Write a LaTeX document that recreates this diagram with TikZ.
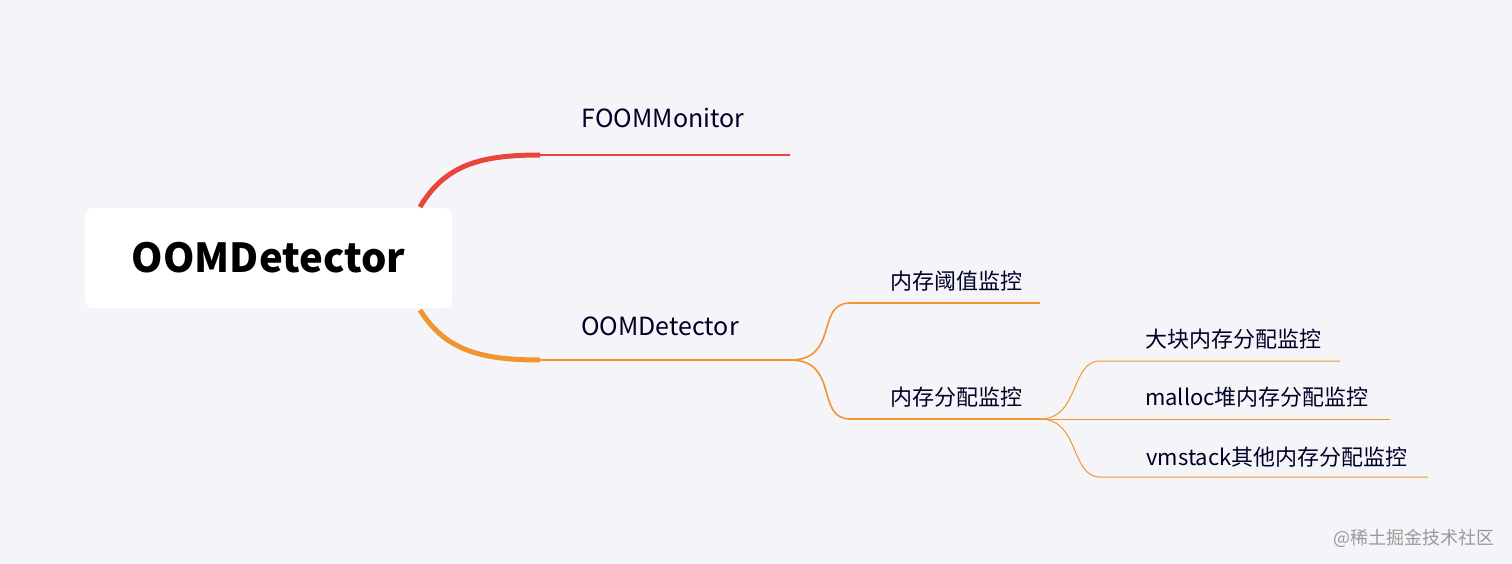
\documentclass[tikz,border=0pt]{standalone}
\usepackage{fontspec}
\setmainfont{Noto Sans CJK SC}
\begin{document}
\begin{tikzpicture}[x=1pt,y=-1pt,
 lab/.style={font=\fontsize{22}{26}\selectfont,text=black!85!blue,anchor=base},
 br/.style={line width=2.5pt},
 sub/.style={line width=1.6pt,draw=orm},
 leaf/.style={line width=1pt,draw=orm}]
\definecolor{bg}{HTML}{F5F5F9}
\definecolor{rd}{HTML}{E8453C}
\definecolor{orm}{HTML}{F3952F}
\fill[bg] (0,0) rectangle (1512,564);
\useasboundingbox (0,0) rectangle (1512,564);
\node[fill=white,rounded corners=8pt,minimum width=367pt,minimum height=100pt,font=\fontsize{40}{44}\selectfont\bfseries] (root) at (268.5,258) {OOMDetector};
\coordinate (r1) at (420,207);
\coordinate (r2) at (420,310);
\coordinate (a) at (540,155); \coordinate (a2) at (790,155);
\coordinate (b) at (540,360); \coordinate (b2) at (790,360);
\coordinate (c) at (850,303); \coordinate (c2) at (1040,303);
\coordinate (d) at (850,419); \coordinate (d2) at (1040,419);
\coordinate (e) at (1100,361); \coordinate (e2) at (1340,361);
\coordinate (f) at (1100,419); \coordinate (f2) at (1390,419);
\coordinate (g) at (1100,477); \coordinate (g2) at (1428,477);
\draw[rd,line width=5pt] (r1) .. controls (445,165) and (480,155) .. (a);
\draw[rd,br] (a) -- (a2);
\draw[orm,line width=5pt] (r2) .. controls (445,350) and (480,360) .. (b);
\draw[orm,br] (b) -- (b2);
\draw[sub] (b2) .. controls (840,360) and (815,303) .. (c) -- (c2);
\draw[sub] (b2) .. controls (840,360) and (815,419) .. (d) -- (d2);
\draw[leaf] (d2) .. controls (1080,419) and (1070,361) .. (e) -- (e2);
\draw[leaf,orm] (d2) -- (f2);
\draw[leaf] (d2) .. controls (1080,419) and (1070,477) .. (g) -- (g2);
\node[lab,font=\fontsize{25}{28}\selectfont] (t1) at (663,128) {FOOMMonitor};
\node[lab,font=\fontsize{25}{28}\selectfont] (t2) at (660,335) {OOMDetector};
\node[lab] (t3) at (956,289) {内存阈值监控};
\node[lab] (t4) at (956,405) {内存分配监控};
\node[lab] (t5) at (1233,347) {大块内存分配监控};
\node[lab] (t6) at (1257,405) {malloc堆内存分配监控};
\node[lab] (t7) at (1277,465) {vmstack其他内存分配监控};
\node[font=\fontsize{18}{20}\selectfont,text=black!40] (w) at (1414,538) {@稀土掘金技术社区};
\end{tikzpicture}
\end{document}
